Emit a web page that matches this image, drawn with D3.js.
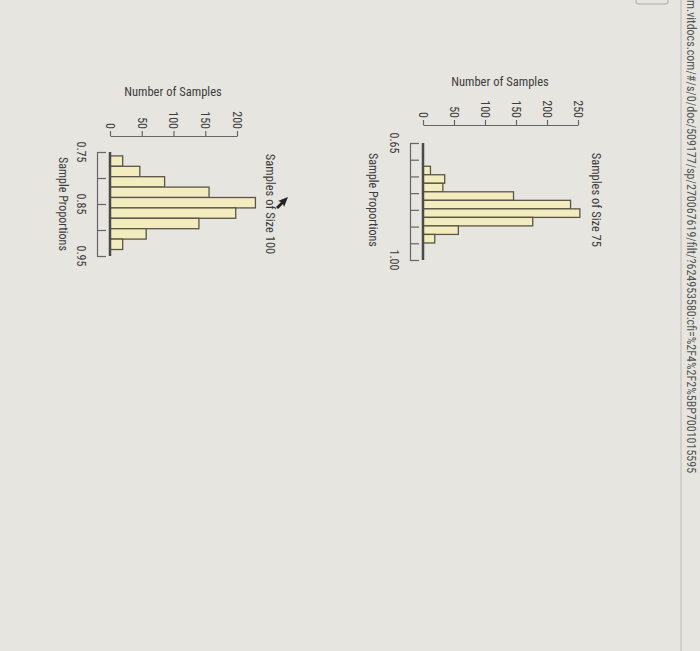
<!DOCTYPE html>
<html>
<head>
<meta charset="utf-8">
<script src="https://cdn.jsdelivr.net/npm/d3@7"></script>
<style>
  body { margin: 0; background: #e7e5e0; }
  text { font-family: "Liberation Sans Narrow", "Roboto Condensed", "Liberation Sans", sans-serif; fill: #3d3d3d; }
</style>
</head>
<body>
<script>
// Two sampling histograms, photographed turned a quarter turn clockwise

// Samples of size 75
var bins75 = [0.7195, 0.7450, 0.7705, 0.7960, 0.8215, 0.8470, 0.8725, 0.8980, 0.9235, 0.9490];
var counts75 = [12, 35, 32, 146, 238, 253, 177, 57, 19];
var countTicks75 = [0, 50, 100, 150, 200, 250];
var propTicks75 = [0.65, 0.70, 0.75, 0.80, 0.85, 0.90, 0.95, 1.00];
var propLabels75 = [0.65, 1.00];

// Samples of size 100
var bins100 = [0.7575, 0.7775, 0.7975, 0.8175, 0.8375, 0.8575, 0.8775, 0.8975, 0.9175, 0.9375];
var counts100 = [20, 47, 86, 156, 229, 198, 140, 57, 20];
var countTicks100 = [0, 50, 100, 150, 200];
var propTicks100 = [0.75, 0.80, 0.85, 0.90, 0.95];
var propLabels100 = [0.75, 0.85, 0.95];

var w = 700, h = 651;

var svg = d3.select("body").append("svg")
  .attr("width", w)
  .attr("height", h);

function drawHist(o) {
  var g = svg.append("g");

  // proportion axis runs down the page, counts run to the right
  var y = d3.scaleLinear().domain(o.propDomain).range([o.top, o.bottom]);
  var x = d3.scaleLinear().domain([0, o.countMax]).range([o.base, o.base + o.countMax * o.perUnit]);

  // bars
  var data = o.counts.map(function(c, i){ return {c: c, a: o.bins[i], b: o.bins[i + 1]}; });
  g.selectAll("rect.bar").data(data).enter().append("rect")
    .attr("class", "bar")
    .attr("x", x(0))
    .attr("y", function(d){ return y(d.a); })
    .attr("width", function(d){ return x(d.c) - x(0); })
    .attr("height", function(d){ return y(d.b) - y(d.a); })
    .style("fill", "#f3ecbf")
    .style("stroke", "#5a5548")
    .style("stroke-width", 1.3);

  // baseline
  g.append("line")
    .attr("x1", x(0)).attr("x2", x(0))
    .attr("y1", y.range()[0]).attr("y2", y.range()[1])
    .style("stroke", "#4a4a4a").style("stroke-width", 2.5);

  // count axis on top
  var ca = g.append("g")
    .attr("transform", "translate(0," + o.countAxisY + ")")
    .call(d3.axisTop(x).tickValues(o.countTicks).tickSize(5).tickSizeOuter(0).tickFormat(""));
  ca.selectAll("path, line").style("stroke", "#666").style("stroke-width", 1.2);
  g.selectAll("text.ct").data(o.countTicks).enter().append("text")
    .attr("class", "ct")
    .attr("transform", function(d){ return "translate(" + x(d) + "," + (o.countAxisY - 7) + ") rotate(90)"; })
    .attr("text-anchor", "end")
    .attr("dy", "0.35em")
    .style("font-size", "12px")
    .text(function(d){ return d; });
  g.append("text")
    .attr("x", o.countLabelX).attr("y", o.countLabelY)
    .attr("text-anchor", "middle")
    .style("font-size", "12.5px")
    .text("Number of Samples");

  // proportion axis on the left
  var pa = g.append("g")
    .attr("transform", "translate(" + o.propAxisX + ",0)")
    .call(d3.axisLeft(y).tickValues(o.propTicks).tickSize(-9).tickSizeOuter(-9).tickFormat(""));
  pa.selectAll("path, line").style("stroke", "#666").style("stroke-width", 1.2);
  g.selectAll("text.pt").data(o.propLabels).enter().append("text")
    .attr("class", "pt")
    .attr("transform", function(d){ return "translate(" + (o.propAxisX - 20) + "," + y(d) + ") rotate(90)"; })
    .attr("text-anchor", "middle")
    .style("font-size", "12px")
    .text(function(d){ return d.toFixed(2); });
  g.append("text")
    .attr("transform", "translate(" + o.propLabelX + "," + y(o.midProp) + ") rotate(90)")
    .attr("text-anchor", "middle")
    .style("font-size", "12px")
    .text("Sample Proportions");

  // title
  g.append("text")
    .attr("transform", "translate(" + o.titleX + "," + y(o.midProp) + ") rotate(90)")
    .attr("text-anchor", "middle")
    .style("font-size", "12.5px")
    .text(o.title);
}

drawHist({
  bins: bins75, counts: counts75, countTicks: countTicks75,
  propTicks: propTicks75, propLabels: propLabels75,
  propDomain: [0.65, 1.00], top: 143, bottom: 260, midProp: 0.82,
  countMax: 250, base: 423, perUnit: 0.62,
  countAxisY: 125, countLabelX: 500, countLabelY: 86,
  propAxisX: 410, propLabelX: 369, titleX: 592,
  title: "Samples of Size 75"
});

drawHist({
  bins: bins100, counts: counts100, countTicks: countTicks100,
  propTicks: propTicks100, propLabels: propLabels100,
  propDomain: [0.75, 0.95], top: 152, bottom: 256, midProp: 0.85,
  countMax: 200, base: 110, perUnit: 0.635,
  countAxisY: 136, countLabelX: 173, countLabelY: 96,
  propAxisX: 97, propLabelX: 59, titleX: 266,
  title: "Samples of Size 100"
});

// mouse pointer left in the photo
svg.append("path")
  .attr("d", "M288,197 l-10,4 l3,1 l-5,5 l2,2 l5,-5 l1,3 z")
  .style("fill", "#222");

// browser edge with the address bar, also turned
svg.append("line")
  .attr("x1", 681).attr("x2", 681).attr("y1", 0).attr("y2", h)
  .style("stroke", "#bdbab4").style("stroke-width", 1);
svg.append("rect")
  .attr("x", 636).attr("y", -4).attr("width", 32).attr("height", 8).attr("rx", 2)
  .style("fill", "none").style("stroke", "#aaa");
svg.append("text")
  .attr("transform", "translate(687,0) rotate(90)")
  .style("font-size", "12px").style("fill", "#555")
  .text("m.vitdocs.com/#/s/0/doc/509177/sp/270067619/filt/?624953580:cfi=%2F4%2F2%5BP7001015595");
</script>
</body>
</html>
